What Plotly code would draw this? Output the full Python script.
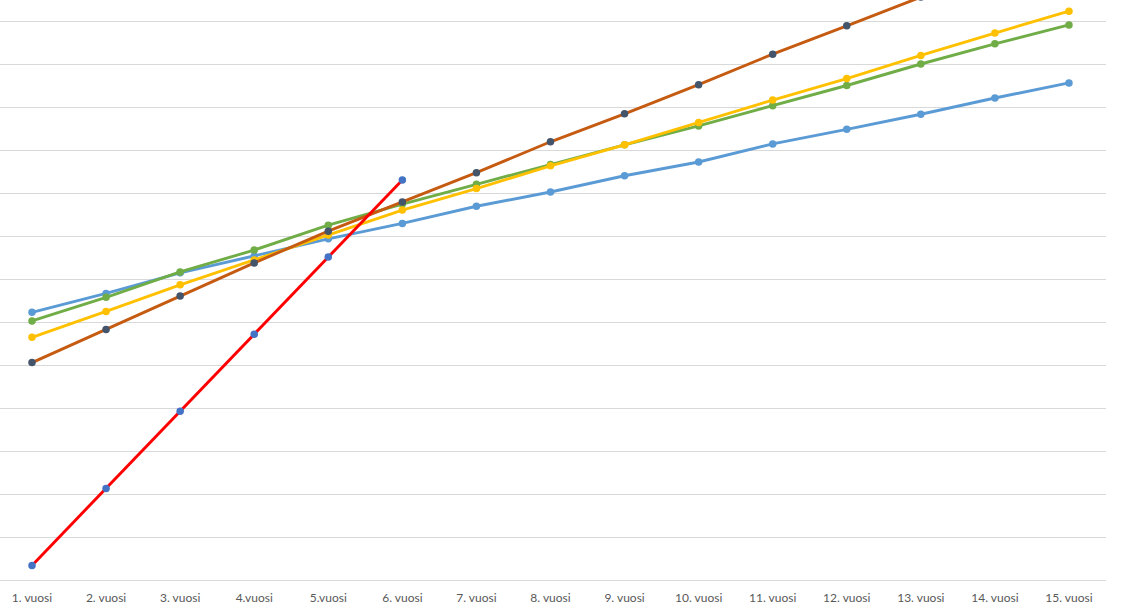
import plotly.graph_objects as go

categories = ["1. vuosi", "2. vuosi", "3. vuosi", "4.vuosi", "5.vuosi", "6. vuosi",
              "7. vuosi", "8. vuosi", "9. vuosi", "10. vuosi", "11. vuosi", "12. vuosi",
              "13. vuosi", "14. vuosi", "15. vuosi"]

blue_vals = [6.23, 6.67, 7.15, 7.54, 7.94, 8.30, 8.70, 9.03, 9.41, 9.73, 10.15, 10.49, 10.84, 11.22, 11.57]
green_vals = [6.03, 6.58, 7.17, 7.68, 8.26, 8.75, 9.21, 9.67, 10.13, 10.57, 11.04, 11.51, 12.01, 12.48, 12.92]
yellow_vals = [5.65, 6.25, 6.87, 7.45, 8.03, 8.61, 9.11, 9.64, 10.13, 10.65, 11.17, 11.67, 12.21, 12.73, 13.24]
brown_vals = [5.06, 5.83, 6.61, 7.38, 8.12, 8.80, 9.48, 10.20, 10.85, 11.53, 12.24, 12.90, 13.57, 14.25, 14.90]
red_vals = [0.34, 2.13, 3.93, 5.72, 7.52, 9.31]

fig = go.Figure()

def add(vals, line_color, marker_color):
    xs = categories[:len(vals)]
    fig.add_trace(go.Scatter(
        x=xs, y=vals, mode="lines+markers",
        line=dict(color=line_color, width=2.9),
        marker=dict(color=marker_color, size=7.5),
        cliponaxis=True, showlegend=False,
    ))

add(blue_vals, "#5B9BD5", "#5B9BD5")
add(green_vals, "#70AD47", "#70AD47")
add(yellow_vals, "#FFC000", "#FFC000")
add(brown_vals, "#C55A11", "#44546A")
add(red_vals, "#FF0000", "#4472C4")

fig.update_layout(
    width=1123, height=614,
    margin=dict(l=0, r=17, t=0, b=34, autoexpand=False),
    paper_bgcolor="white", plot_bgcolor="white",
    font=dict(family="Lato, 'Open Sans', sans-serif", size=12, color="#595959"),
)
fig.update_xaxes(
    type="category", categoryorder="array", categoryarray=categories,
    range=[-0.432, 14.5], showgrid=False, zeroline=False, automargin=False,
    showline=True, linecolor="#D9D9D9", linewidth=1,
    ticks="", ticklabelstandoff=7,
    tickfont=dict(size=12, color="#595959"),
)
fig.update_yaxes(
    range=[0, 13.5], dtick=1, tick0=0, showticklabels=False, automargin=False,
    showgrid=True, gridcolor="#D9D9D9", gridwidth=1, zeroline=False,
)

fig.write_html("out.html", config={"displayModeBar": False},
               post_script="document.body.style.margin='0';document.body.style.overflow='hidden';")
